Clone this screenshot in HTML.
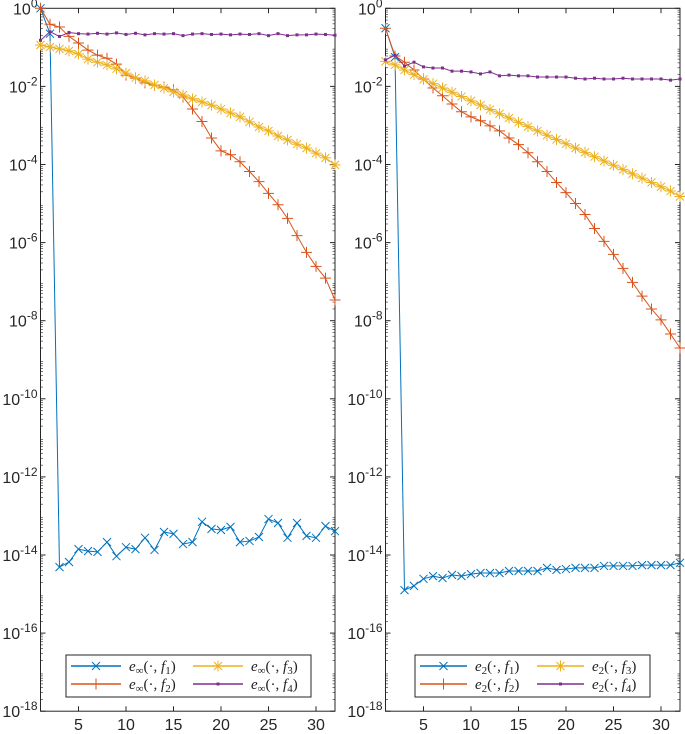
<!DOCTYPE html>
<html><head><meta charset="utf-8">
<style>
html,body{margin:0;padding:0;background:#fff;}
svg{display:block;font-family:"Liberation Sans",sans-serif;}
.lg{font-family:"Liberation Serif",serif;font-style:italic;font-size:15px;fill:#222;}
</style></head>
<body>
<svg id="chart" width="685" height="734" viewBox="0 0 685 734"></svg>
<script>
const xValues = Array.from({length:32},(_,i)=>i+1);
const yTickExps = [0,-2,-4,-6,-8,-10,-12,-14,-16,-18];
const xTickLabels = [5,10,15,20,25,30];

const leftF1 = [0,-0.65,-14.31,-14.18,-13.85,-13.90,-13.92,-13.67,-14.03,-13.80,-13.85,-13.56,-13.87,-13.41,-13.46,-13.72,-13.67,-13.15,-13.33,-13.36,-13.28,-13.67,-13.64,-13.54,-13.08,-13.18,-13.56,-13.18,-13.51,-13.56,-13.26,-13.39];
const leftF2 = [0,-0.41,-0.48,-0.72,-0.89,-1.07,-1.2,-1.28,-1.43,-1.71,-1.79,-1.91,-1.97,-2.02,-2.09,-2.27,-2.58,-2.9,-3.32,-3.65,-3.75,-3.93,-4.18,-4.44,-4.74,-5.03,-5.38,-5.82,-6.25,-6.61,-6.91,-7.47];
const leftF3 = [-0.94,-0.99,-1.04,-1.09,-1.17,-1.30,-1.38,-1.45,-1.55,-1.66,-1.78,-1.86,-1.96,-2.04,-2.14,-2.22,-2.32,-2.40,-2.48,-2.58,-2.68,-2.78,-2.91,-3.04,-3.14,-3.27,-3.37,-3.48,-3.58,-3.71,-3.83,-4.01];
const leftF4 = [-0.82,-0.6,-0.72,-0.62,-0.65,-0.66,-0.64,-0.66,-0.63,-0.67,-0.64,-0.68,-0.65,-0.66,-0.65,-0.70,-0.66,-0.65,-0.67,-0.66,-0.68,-0.66,-0.67,-0.65,-0.70,-0.65,-0.70,-0.68,-0.68,-0.66,-0.67,-0.69];

const rightF1 = [-0.51,-1.25,-14.9,-14.79,-14.61,-14.54,-14.59,-14.51,-14.54,-14.49,-14.46,-14.46,-14.46,-14.41,-14.41,-14.41,-14.41,-14.33,-14.38,-14.36,-14.33,-14.33,-14.33,-14.28,-14.28,-14.28,-14.28,-14.26,-14.26,-14.26,-14.26,-14.2];
const rightF2 = [-0.51,-1.22,-1.38,-1.58,-1.81,-2.04,-2.24,-2.45,-2.65,-2.78,-2.88,-3.01,-3.14,-3.32,-3.49,-3.7,-3.93,-4.18,-4.46,-4.72,-5.0,-5.28,-5.64,-5.97,-6.3,-6.66,-7.02,-7.37,-7.7,-7.98,-8.34,-8.7];
const rightF3 = [-1.36,-1.45,-1.58,-1.70,-1.82,-1.93,-2.04,-2.15,-2.26,-2.37,-2.48,-2.59,-2.70,-2.81,-2.92,-3.03,-3.14,-3.25,-3.36,-3.47,-3.58,-3.69,-3.80,-3.91,-4.02,-4.13,-4.24,-4.35,-4.46,-4.57,-4.68,-4.82];
const rightF4 = [-1.32,-1.20,-1.48,-1.38,-1.50,-1.53,-1.53,-1.61,-1.61,-1.63,-1.68,-1.63,-1.73,-1.71,-1.73,-1.73,-1.76,-1.76,-1.76,-1.76,-1.79,-1.81,-1.79,-1.81,-1.81,-1.79,-1.81,-1.81,-1.81,-1.81,-1.84,-1.81];

const leftLegend = ["e∞(·, f1)","e∞(·, f2)","e∞(·, f3)","e∞(·, f4)"];
const rightLegend = ["e2(·, f1)","e2(·, f2)","e2(·, f3)","e2(·, f4)"];

const NS="http://www.w3.org/2000/svg";
const svg=document.getElementById('chart');
const COLORS=["#0072BD","#D95319","#EDB120","#7E2F8E"];
const MARKS=["x","+","*","."];
function mk(tag,attrs,parent){const e=document.createElementNS(NS,tag);for(const k in attrs)e.setAttribute(k,attrs[k]);(parent||svg).appendChild(e);return e;}

function drawPanel(p){
  const g=mk('g',{});
  
  
  const x0=p.left, unit=(p.right-p.left)/31, top=8.3, dec=39.05;
  const X=v=>x0+(v-1)*unit;
  const Y=e=>top-e*dec;
  const bottom=Y(-18);
  const fr=mk('rect',{x:p.left,y:top,width:p.right-p.left,height:bottom-top,fill:'#fff',stroke:'#262626','stroke-width':1},g);
  
  
  for(let d=0;d>-18;d--){
    for(let m=2;m<=9;m++){
      const y=Y(d-1+Math.log10(m));
      mk('line',{x1:p.left,x2:p.left+2.5,y1:y,y2:y,stroke:'#262626','stroke-width':0.6},g);
      mk('line',{x1:p.right,x2:p.right-2.5,y1:y,y2:y,stroke:'#262626','stroke-width':0.6},g);
    }
  }
  yTickExps.forEach(e=>{
    const y=Y(e);
    mk('line',{x1:p.left,x2:p.left+5,y1:y,y2:y,stroke:'#262626','stroke-width':1},g);
    mk('line',{x1:p.right,x2:p.right-5,y1:y,y2:y,stroke:'#262626','stroke-width':1},g);
    const t=mk('text',{x:p.left-3,y:y+6,'text-anchor':'end','font-size':16,fill:'#262626'},g);
    
    
    t.textContent='10';
    const s=mk('tspan',{dy:-7,'font-size':12},t); s.textContent=String(e);
  });
  xTickLabels.forEach(v=>{
    const x=X(v);
    mk('line',{x1:x,x2:x,y1:bottom,y2:bottom-5,stroke:'#262626'},g);
    mk('line',{x1:x,x2:x,y1:top,y2:top+5,stroke:'#262626'},g);
    const t=mk('text',{x:x,y:bottom+19,'text-anchor':'middle','font-size':16,fill:'#262626'},g);
    
    
    t.textContent=v;
  });
  p.series.forEach((arr,si)=>{
    const c=COLORS[si];
    const sg=mk('g',{},g);
    
    
    const pts=arr.map((v,i)=>X(xValues[i]).toFixed(2)+','+Y(v).toFixed(2)).join(' ');
    mk('polyline',{points:pts,fill:'none',stroke:c,'stroke-width':1},sg);
    arr.forEach((v,i)=>drawMarker(sg,MARKS[si],X(xValues[i]),Y(v),c));
  });
  const L=p.legend;
  const lg=mk('g',{},g);
  
  
  mk('rect',{x:L.x,y:655,width:L.w,height:42,fill:'#fff',stroke:'#262626','stroke-width':1},lg);
  p.labels.forEach((lab,i)=>{
    const col=i<2?0:1, row=i%2;
    const cx=L.x+5+col*L.col, cy=666+row*18;
    const eg=mk('g',{},lg);
    
    
    mk('line',{x1:cx,x2:cx+L.line,y1:cy,y2:cy,stroke:COLORS[i],'stroke-width':1.5},eg);
    drawMarker(eg,MARKS[i],cx+L.line/2,cy,COLORS[i]);
    const t=mk('text',{x:cx+L.line+8,y:cy+5,class:'lg'},eg);
    const m=lab.match(/^e(.)\(·, f(\d)\)$/);
    t.appendChild(document.createTextNode('e'));
    const s1=mk('tspan',{dy:3,'font-size':11,'font-style':'normal'},t); s1.textContent=m[1];
    const s2=mk('tspan',{dy:-3,'font-style':'normal'},t); s2.textContent='(·, ';
    const s3=mk('tspan',{},t); s3.textContent='f';
    const s4=mk('tspan',{dy:3,'font-size':11,'font-style':'normal'},t); s4.textContent=m[2];
    const s5=mk('tspan',{dy:-3,'font-style':'normal'},t); s5.textContent=')';
  });
}
function drawMarker(g,type,x,y,c){
  const r=4;
  if(type==='x'){
    mk('path',{d:`M${x-r},${y-r}L${x+r},${y+r}M${x-r},${y+r}L${x+r},${y-r}`,stroke:c,'stroke-width':1,fill:'none'},g);
  }else if(type==='+'){
    const q=5.5;
    mk('path',{d:`M${x-q},${y}L${x+q},${y}M${x},${y-q}L${x},${y+q}`,stroke:c,'stroke-width':1,fill:'none'},g);
  }else if(type==='*'){
    const q=5.5,d=4;
    mk('path',{d:`M${x-q},${y}L${x+q},${y}M${x},${y-q}L${x},${y+q}M${x-d},${y-d}L${x+d},${y+d}M${x-d},${y+d}L${x+d},${y-d}`,stroke:c,'stroke-width':1,fill:'none'},g);
  }else{
    mk('rect',{x:x-1.5,y:y-1.5,width:3,height:3,fill:c},g);
  }
}
drawPanel({name:'left-panel-e-inf',left:40.5,right:335,series:[leftF1,leftF2,leftF3,leftF4],labels:leftLegend,legend:{x:66,w:245,col:122,line:50}});
drawPanel({name:'right-panel-e-2',left:385.5,right:680,series:[rightF1,rightF2,rightF3,rightF4],labels:rightLegend,legend:{x:415,w:235,col:117,line:47}});
</script>
</body></html>
